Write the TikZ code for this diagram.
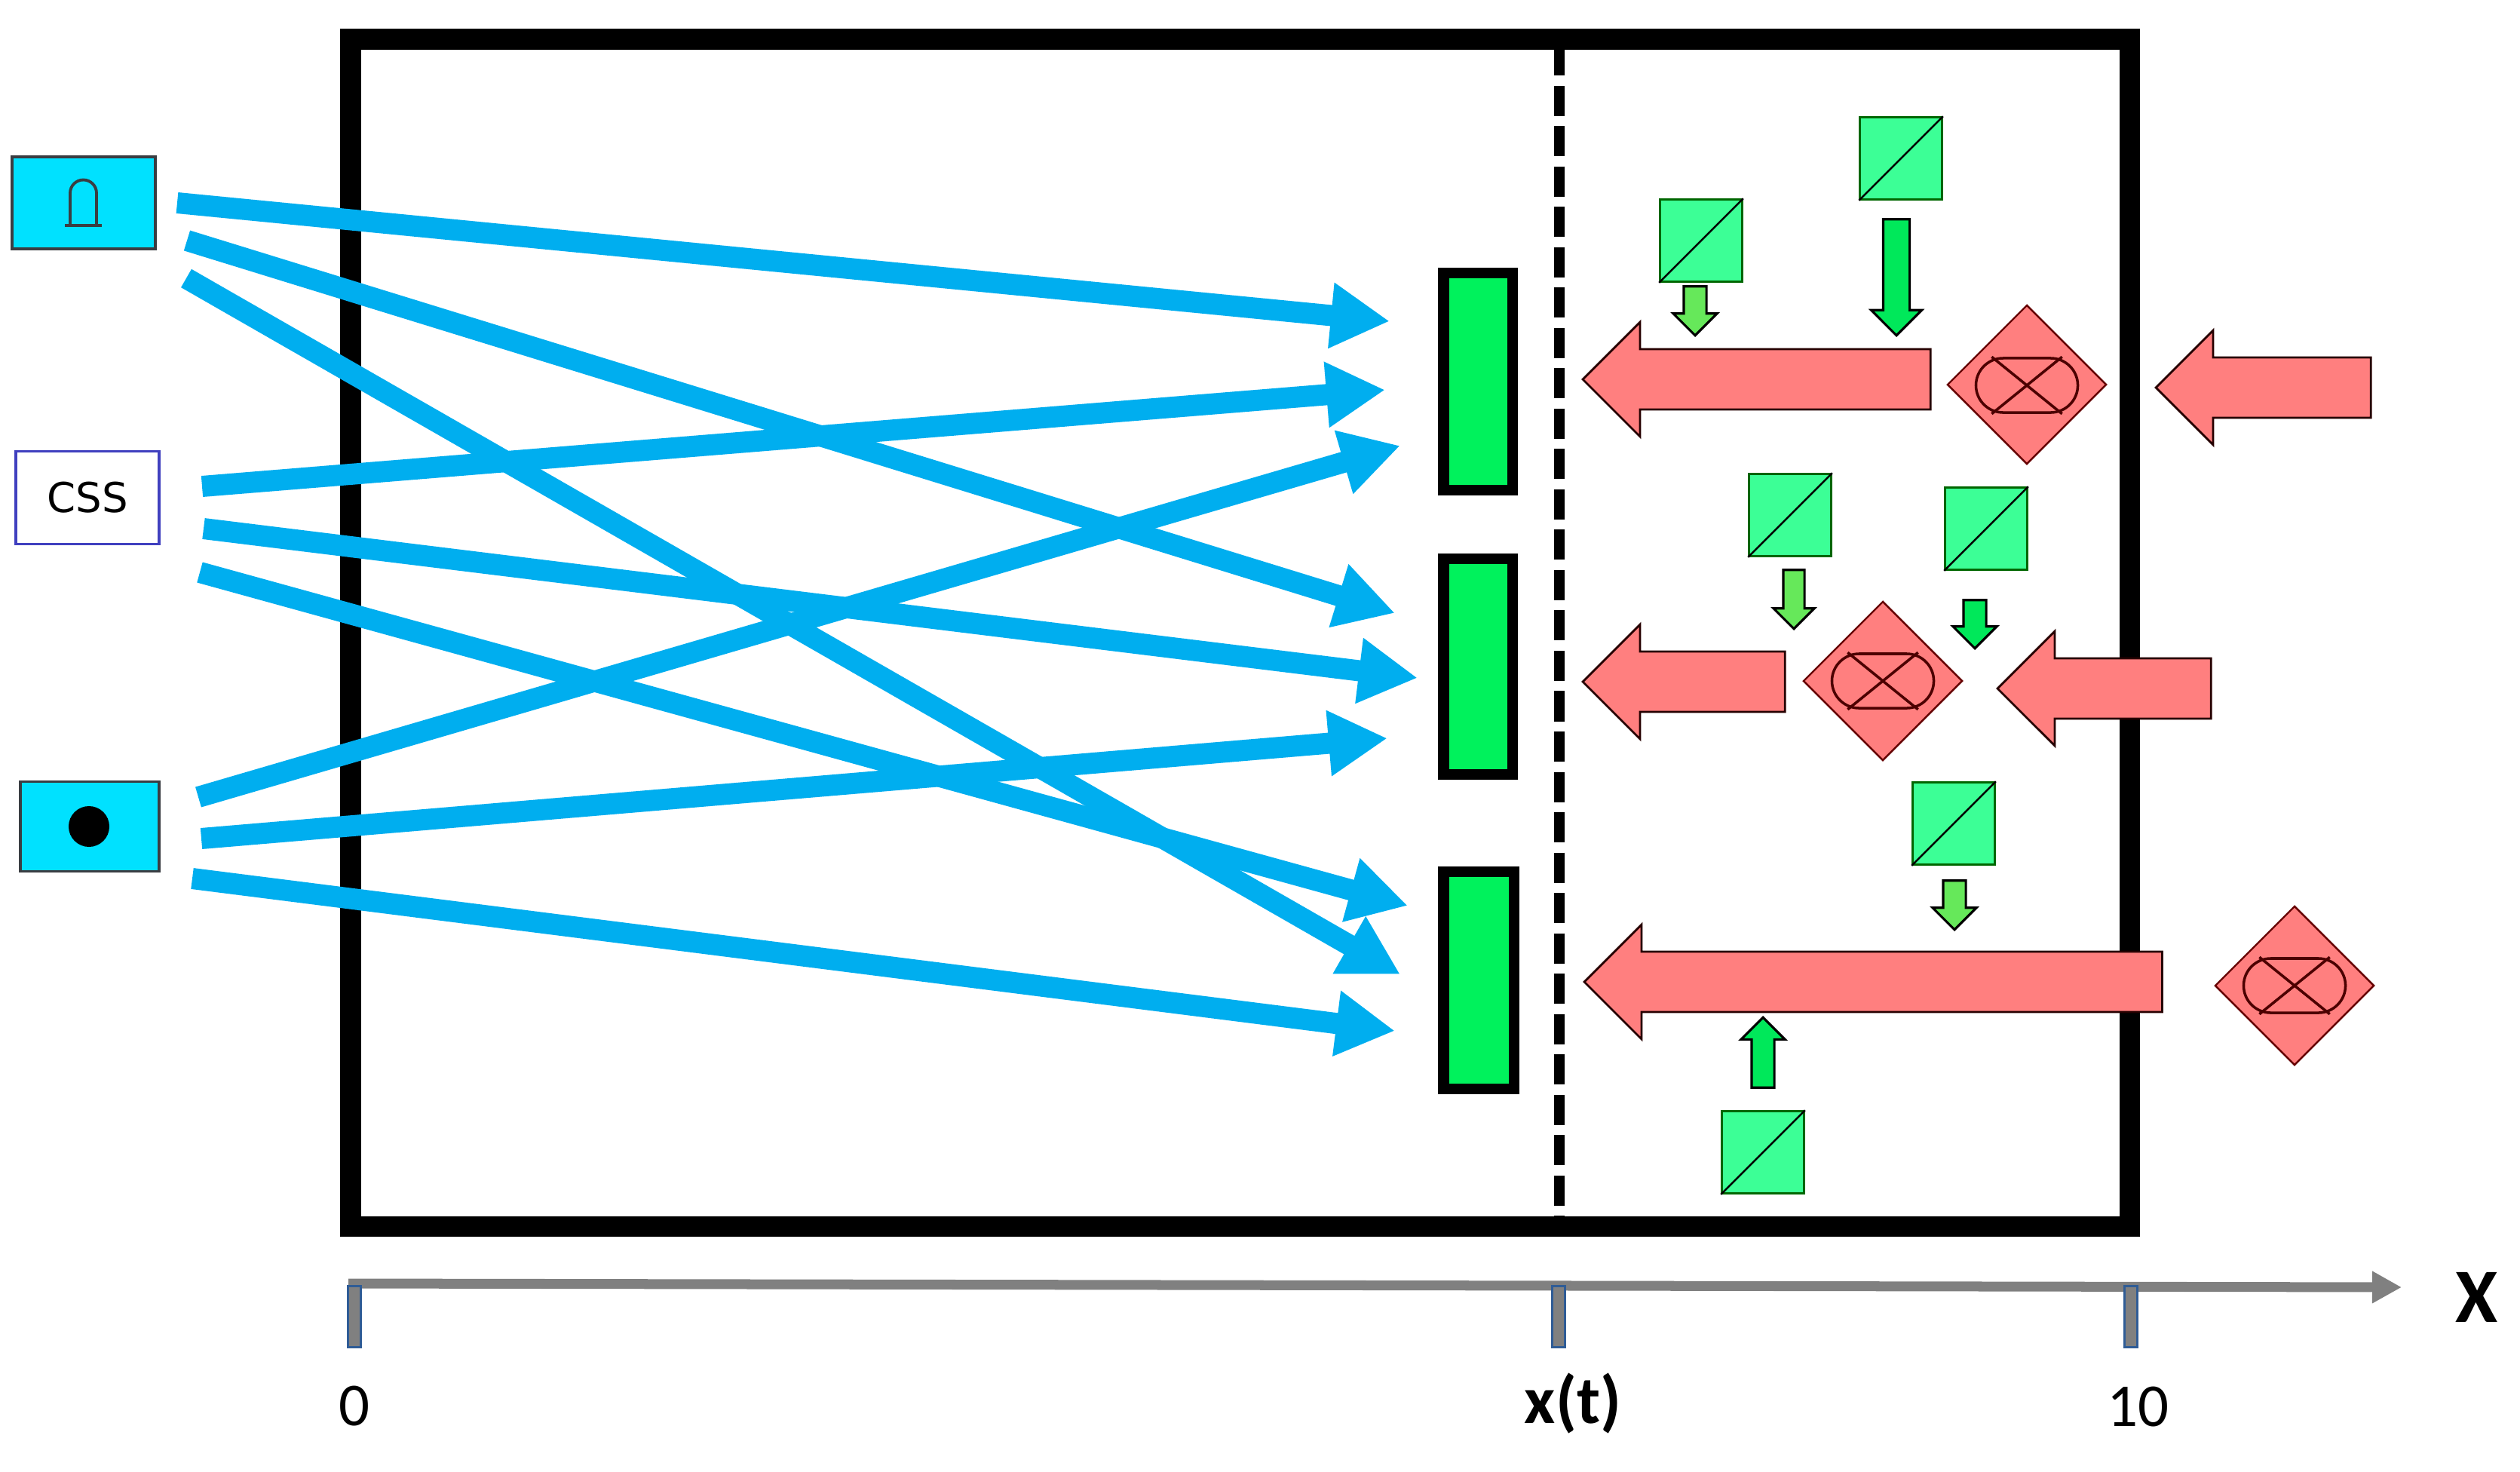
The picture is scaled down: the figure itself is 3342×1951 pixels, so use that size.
\documentclass[tikz,border=0pt]{standalone}
\usepackage{fontspec}
\setmainfont{Carlito}
\newfontfamily\cssfont{DejaVu Sans}
\usetikzlibrary{shapes.geometric, shapes.arrows, arrows.meta, positioning}
\definecolor{beamBlue}{HTML}{00AEEF}
\definecolor{sourceCyan}{HTML}{00E1FF}
\definecolor{plateGreen}{HTML}{00F25C}
\definecolor{cellGreen}{HTML}{3CFF96}
\definecolor{feedGreen}{HTML}{00E85A}
\definecolor{paleGreen}{HTML}{66E85A}
\definecolor{flowRed}{HTML}{FF7F7F}
\definecolor{tickBlue}{HTML}{2F5C96}
\tikzset{sourceBox/.style={shape=rectangle, inner sep=0pt, minimum width=1.9cm, minimum height=1.22cm, draw=black!85!cyan, line width=0.9pt, fill=sourceCyan}}
\tikzset{plate/.style={shape=rectangle, inner sep=0pt, minimum width=0.91cm, minimum height=2.87cm, draw=black, line width=0.14cm, fill=plateGreen}}
\tikzset{beam/.style={line width=0.28cm, color=beamBlue, -{Triangle[length=0.78cm, width=0.82cm]}}}
\tikzset{redArrow/.style={shape=single arrow, shape border rotate=180, anchor=tip, inner sep=0pt, text height=0.77cm, text depth=0pt, single arrow head extend=0.36cm, draw=black!85!red, line width=0.8pt, fill=flowRed}}
\tikzset{valve/.style={shape=diamond, aspect=1, inner sep=0pt, minimum width=2.11cm, minimum height=2.11cm, draw=black!60!red, line width=0.7pt, fill=flowRed}}
\tikzset{valveCore/.style={shape=rectangle, rounded corners=3.6mm, inner sep=0pt, minimum width=1.35cm, minimum height=0.72cm, draw=black!70!red, line width=1pt}}
\tikzset{cell/.style={shape=rectangle, inner sep=0pt, minimum width=1.09cm, minimum height=1.09cm, draw=black!60!green, line width=0.7pt, fill=cellGreen}}
\tikzset{smallArrow/.style={shape=single arrow, anchor=tip, inner sep=0pt, text height=0.27cm, text depth=0pt, single arrow head extend=0.14cm, draw=black, line width=0.9pt}}
\tikzset{tickMark/.style={shape=rectangle, inner sep=0pt, minimum width=0.17cm, minimum height=0.81cm, draw=tickBlue, line width=0.8pt, fill=gray}}
\tikzset{axisLabel/.style={anchor=base, inner sep=0pt, font=\fontsize{23}{28}\selectfont}}

\begin{document}
\begin{tikzpicture}[x=0.01cm, y=-0.01cm]

\useasboundingbox (0,0) rectangle (3342,1951);

% Chamber
\draw[line width=0.27cm, miter limit=10] (465,52) rectangle (2824,1626);
\coordinate (cutTop) at (2068,60);
\coordinate (cutBottom) at (2068,1620);
\draw[line width=0.135cm, dash pattern=on 0.40cm off 0.135cm] (cutTop) -- (cutBottom);

% Sources
\node[sourceBox] (lamp) at (111,269) {};
\draw[line width=1.1pt, color=black!85!cyan] (93,299) -- (93,256) arc[start angle=180, end angle=360, radius=17.5] -- (128,299);
\draw[line width=1.1pt, color=black!85!cyan] (86,299) -- (135,299);
\node[shape=rectangle, inner sep=0pt, minimum width=1.9cm, minimum height=1.23cm, draw=blue!50!gray, line width=0.9pt, fill=white, font=\cssfont\fontsize{15.5}{18}\selectfont] (css) at (116,660) {CSS};
\node[sourceBox, minimum width=1.84cm, minimum height=1.19cm] (spot) at (119,1096) {};
\node[shape=circle, inner sep=0pt, minimum size=0.54cm, fill=black] (dot) at (118,1096) {};

% Plates
\node[plate] (plate1) at (1960,506) {};
\node[plate, minimum height=2.85cm] (plate2) at (1960,884) {};
\node[plate, minimum width=0.93cm] (plate3) at (1961,1300) {};

% Beam ends
\coordinate (lampA) at (235,269);
\coordinate (lampB) at (248,319);
\coordinate (lampC) at (247,369);
\coordinate (cssA) at (268,645);
\coordinate (cssB) at (270,701);
\coordinate (cssC) at (265,759);
\coordinate (spotA) at (263,1057);
\coordinate (spotB) at (267,1112);
\coordinate (spotC) at (255,1165);
\coordinate (hit1) at (1843,426);
\coordinate (hit2) at (1837,517);
\coordinate (hit3) at (1857,591);
\coordinate (hit4) at (1850,813);
\coordinate (hit5) at (1880,899);
\coordinate (hit6) at (1840,979);
\coordinate (hit7) at (1867,1201);
\coordinate (hit8) at (1857,1292);
\coordinate (hit9) at (1850,1367);

% Beams
\draw[beam] (lampA) -- (hit1);
\draw[beam] (lampB) -- (hit4);
\draw[beam] (lampC) -- (hit8);
\draw[beam] (cssA) -- (hit2);
\draw[beam] (cssB) -- (hit5);
\draw[beam] (cssC) -- (hit7);
\draw[beam] (spotA) -- (hit3);
\draw[beam] (spotB) -- (hit6);
\draw[beam] (spotC) -- (hit9);

% Top row
\node[redArrow, minimum height=4.61cm] (flow1) at (2097,503) {};
\node[redArrow, minimum height=2.85cm] (flow2) at (2857,514) {};
\node[valve] (valve1) at (2688,510) {};
\node[valveCore] (core1) at (2688,511) {};
\draw[line width=1pt, color=black!70!red] (core1.39) -- (core1.219);
\draw[line width=1pt, color=black!70!red] (core1.141) -- (core1.321);

% Middle row
\node[redArrow, minimum height=2.68cm] (flow3) at (2097,904) {};
\node[redArrow, minimum height=2.83cm] (flow4) at (2647,913) {};
\node[valve] (valve2) at (2497,903) {};
\node[valveCore] (core2) at (2497,903) {};
\draw[line width=1pt, color=black!70!red] (core2.39) -- (core2.219);
\draw[line width=1pt, color=black!70!red] (core2.141) -- (core2.321);

% Bottom row
\node[redArrow, minimum height=7.66cm] (flow5) at (2099,1302) {};
\node[valve] (valve3) at (3043,1307) {};
\node[valveCore] (core3) at (3043,1307) {};
\draw[line width=1pt, color=black!70!red] (core3.39) -- (core3.219);
\draw[line width=1pt, color=black!70!red] (core3.141) -- (core3.321);

% Cells
\node[cell] (cell1) at (2521,210) {};
\node[cell] (cell2) at (2256,319) {};
\node[cell] (cell3) at (2374,683) {};
\node[cell] (cell4) at (2634,701) {};
\node[cell] (cell5) at (2591,1092) {};
\node[cell] (cell6) at (2338,1528) {};
\draw[line width=0.7pt] (cell1.south west) -- (cell1.north east);
\draw[line width=0.7pt] (cell2.south west) -- (cell2.north east);
\draw[line width=0.7pt] (cell3.south west) -- (cell3.north east);
\draw[line width=0.7pt] (cell4.south west) -- (cell4.north east);
\draw[line width=0.7pt] (cell5.south west) -- (cell5.north east);
\draw[line width=0.7pt] (cell6.south west) -- (cell6.north east);

% Green arrows
\node[smallArrow, rotate=-90, text height=0.32cm, single arrow head extend=0.16cm, minimum height=1.54cm, fill=feedGreen] (feed1) at (2515,447) {};
\node[smallArrow, rotate=-90, minimum height=0.65cm, fill=paleGreen] (feed2) at (2248,447) {};
\node[smallArrow, rotate=-90, text height=0.25cm, single arrow head extend=0.13cm, minimum height=0.78cm, fill=paleGreen] (feed3) at (2379,836) {};
\node[smallArrow, rotate=-90, minimum height=0.64cm, fill=feedGreen] (feed4) at (2619,862) {};
\node[smallArrow, rotate=-90, minimum height=0.65cm, fill=paleGreen] (feed5) at (2592,1235) {};
\node[smallArrow, rotate=90, minimum height=0.93cm, fill=feedGreen] (feed6) at (2338,1347) {};

% Axis
\coordinate (axisStart) at (462,1702);
\coordinate (axisEnd) at (3185,1707);
\draw[line width=0.13cm, color=gray, -{Triangle[length=0.39cm, width=0.40cm]}] (axisStart) -- (axisEnd);
\node[tickMark] (tick0) at (470,1746) {};
\node[tickMark] (tickx) at (2067,1746) {};
\node[tickMark] (tick10) at (2826,1746) {};
\node[axisLabel] (label0) at (470,1890) {0};
\node[axisLabel, font=\fontsize{25.5}{30}\selectfont\bfseries] (labelx) at (2086,1887) {x(t)};
\node[axisLabel] (label10) at (2835,1891) {10};
\node[axisLabel, font=\fontsize{29}{34}\selectfont\bfseries] (labelX) at (3285,1753) {X};

\end{tikzpicture}
\end{document}
